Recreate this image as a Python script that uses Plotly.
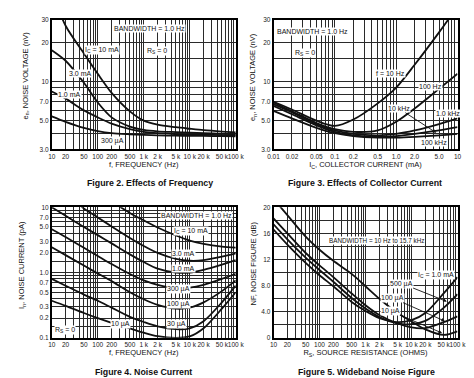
import plotly.graph_objects as go

W, H = 474, 378
FONT = "Liberation Sans Narrow, Arial Narrow, Liberation Sans, Arial, sans-serif"

# ---------------- Figure 2: noise voltage vs frequency ----------------
freq = [10, 20, 50, 100, 200, 500, 1e3, 2e3, 5e3, 1e4, 2e4, 5e4, 1e5]
en_f_10mA = [50, 27, 16.5, 11.5, 8.2, 5.9, 5.0, 4.65, 4.45, 4.33, 4.22, 4.12, 4.06]
en_f_3mA = [17.5, 14.5, 9.8, 6.9, 5.3, 4.5, 4.25, 4.14, 4.08, 4.04, 4.0, 3.96, 3.93]
en_f_1mA = [8.4, 7.4, 6.0, 5.3, 4.75, 4.3, 4.1, 4.0, 3.94, 3.91, 3.89, 3.87, 3.86]
en_f_300uA = [5.4, 4.9, 4.4, 4.15, 4.0, 3.92, 3.88, 3.85, 3.83, 3.82, 3.81, 3.8, 3.79]

# ---------------- Figure 3: noise voltage vs collector current ----------------
ic = [0.01, 0.02, 0.05, 0.1, 0.2, 0.5, 1, 2, 5, 10]
en_i_10Hz = [7.0, 6.1, 5.0, 4.55, 5.1, 6.8, 9.0, 13.5, 24, 38]
en_i_100Hz = [6.9, 5.9, 4.8, 4.3, 4.1, 4.2, 4.9, 6.2, 8.8, 11.5]
en_i_1kHz = [6.7, 5.8, 4.7, 4.2, 3.95, 3.85, 3.95, 4.2, 4.7, 5.2]
en_i_10kHz = [6.5, 5.6, 4.6, 4.1, 3.85, 3.75, 3.8, 3.95, 4.2, 4.45]
en_i_100kHz = [5.95, 5.2, 4.4, 4.0, 3.8, 3.7, 3.7, 3.75, 3.85, 3.95]

# ---------------- Figure 4: noise current vs frequency ----------------
in_10mA = [60, 40, 24, 17, 12.3, 8.2, 6.3, 4.9, 3.7, 3.1, 2.75, 2.5, 2.42]
in_3mA = [25, 17, 9.6, 7.0, 5.1, 3.4, 2.55, 2.0, 1.62, 1.52, 1.55, 1.75, 1.97]
in_1mA = [10, 7.4, 5.0, 3.75, 2.8, 1.9, 1.45, 1.15, 1.0, 1.0, 1.1, 1.32, 1.55]
in_300uA = [4.6, 3.5, 2.4, 1.8, 1.35, 0.95, 0.76, 0.65, 0.58, 0.59, 0.65, 0.8, 0.96]
in_100uA = [2.45, 1.85, 1.28, 0.97, 0.74, 0.5, 0.39, 0.32, 0.28, 0.29, 0.35, 0.52, 0.76]
in_30uA = [0.8, 0.63, 0.46, 0.37, 0.29, 0.21, 0.175, 0.15, 0.136, 0.14, 0.18, 0.35, 0.63]
in_10uA = [0.37, 0.31, 0.24, 0.2, 0.17, 0.14, 0.12, 0.106, 0.1, 0.105, 0.14, 0.28, 0.5]

# ---------------- Figure 5: wideband noise figure vs source resistance ----------------
rs = [10, 20, 50, 100, 200, 500, 1e3, 2e3, 5e3, 1e4, 2e4, 5e4, 1e5]
nf_1mA = [16.6, 14.3, 11.5, 9.6, 7.9, 5.5, 4.1, 3.0, 2.4, 2.7, 3.8, 6.8, 9.3]
nf_500uA = [17.4, 15.1, 12.3, 10.4, 8.6, 6.1, 4.5, 3.2, 2.2, 2.1, 2.6, 4.6, 6.7]
nf_100uA = [18.3, 16.0, 13.0, 11.1, 9.3, 6.8, 5.0, 3.5, 2.2, 1.6, 1.5, 2.4, 3.3]
nf_10uA = [21.3, 18.8, 15.5, 13.5, 11.8, 9.8, 7.9, 6.0, 3.8, 2.5, 1.3, 0.45, 1.0]

# tick labels
f_ticks = [10, 20, 50, 100, 200, 500, 1e3, 2e3, 5e3, 1e4, 2e4, 5e4, 1e5]
f_ticktext = ["10", "20", "50", "100", "200", "500", "1 k", "2 k", "5 k", "10 k", "20 k", "50 k", "100 k"]
ic_ticks = [0.01, 0.02, 0.05, 0.1, 0.2, 0.5, 1, 2, 5, 10]
ic_ticktext = ["0.01", "0.02", "0.05", "0.1", "0.2", "0.5", "1.0", "2.0", "5.0", "10"]
en_ticks = [3, 5, 7, 10, 20, 30]
en_ticktext = ["3.0", "5.0", "7.0", "10", "20", "30"]
in_ticks = [0.1, 0.2, 0.3, 0.5, 0.7, 1, 2, 3, 5, 7, 10]
in_ticktext = ["0.1", "0.2", "0.3", "0.5", "0.7", "1.0", "2.0", "3.0", "5.0", "7.0", "10"]
nf_ticks = [0, 4, 8, 12, 16, 20]
nf_ticktext = ["0", "4.0", "8.0", "12", "16", "20"]


def log_grid(lo_exp, hi_exp):
    vals = []
    for e in range(lo_exp, hi_exp + 1):
        for k in range(1, 10):
            vals.append(k * 10 ** e)
    return vals


fig = go.Figure()
line = dict(color="#111", width=1.8, shape="spline", smoothing=0.8)


def add(x, y, name, ax):
    fig.add_trace(go.Scatter(x=x, y=y, mode="lines", line=line, name=name,
                             xaxis="x" + ax, yaxis="y" + ax, showlegend=False,
                             hoverinfo="x+y+name"))


add(freq, en_f_10mA, "IC = 10 mA", "")
add(freq, en_f_3mA, "3.0 mA", "")
add(freq, en_f_1mA, "1.0 mA", "")
add(freq, en_f_300uA, "300 µA", "")

add(ic, en_i_10Hz, "f = 10 Hz", "2")
add(ic, en_i_100Hz, "100 Hz", "2")
add(ic, en_i_1kHz, "1.0 kHz", "2")
add(ic, en_i_10kHz, "10 kHz", "2")
add(ic, en_i_100kHz, "100 kHz", "2")

add(freq, in_10mA, "10 mA", "3")
add(freq, in_3mA, "3.0 mA", "3")
add(freq, in_1mA, "1.0 mA", "3")
add(freq, in_300uA, "300 µA", "3")
add(freq, in_100uA, "100 µA", "3")
add(freq, in_30uA, "30 µA", "3")
add(freq, in_10uA, "10 µA", "3")

add(rs, nf_1mA, "1.0 mA", "4")
add(rs, nf_500uA, "500 µA", "4")
add(rs, nf_100uA, "100 µA", "4")
add(rs, nf_10uA, "10 µA", "4")

GRID = "#2a2a2a"
TITLE_FONT = dict(size=7.5, family=FONT, color="#111")


def axis(domain, anchor, rng, tickvals, ticktext, minorvals, title=None,
         standoff=2, log=True):
    d = dict(domain=domain, anchor=anchor, range=rng,
             tickmode="array", tickvals=tickvals, ticktext=ticktext,
             tickangle=0,
             showline=True, linecolor="black", linewidth=1.6, mirror=True,
             showgrid=True, gridcolor=GRID, gridwidth=1, zeroline=False,
             ticks="", tickfont=dict(size=6.5, family=FONT, color="#222"),
             minor=dict(tickmode="array", tickvals=minorvals, showgrid=True,
                        gridcolor=GRID, gridwidth=1, ticks=""),
             fixedrange=True)
    if title:
        d["title"] = dict(text=title, font=TITLE_FONT, standoff=standoff)
    if log:
        d["type"] = "log"
    return d


def px(x):
    return x / W


def py(y):
    return 1 - y / H


xl = [px(39), px(229)]
xr = [px(268), px(458)]
yt = [py(140), py(8)]
yb = [py(332), py(199)]

EN_TITLE = "e<sub>n</sub>, NOISE VOLTAGE (nV)"
F_TITLE = "f, FREQUENCY (Hz)"

fig.update_layout(
    width=W, height=H, autosize=False,
    margin=dict(l=0, r=0, t=0, b=0),
    paper_bgcolor="white", plot_bgcolor="white",
    xaxis=axis(xl, "y", [1, 5], f_ticks, f_ticktext, log_grid(1, 4), F_TITLE),
    yaxis=axis(yt, "x", [0.4771, 1.4771], en_ticks, en_ticktext,
               [4, 5, 6, 7, 8, 9, 10, 15, 20]),
    xaxis2=axis(xr, "y2", [-2, 1], ic_ticks, ic_ticktext, log_grid(-2, 0),
                "I<sub>C</sub>, COLLECTOR CURRENT (mA)"),
    yaxis2=axis(yt, "x2", [0.4771, 1.4771], en_ticks, en_ticktext,
                [4, 5, 6, 7, 8, 9, 10, 15, 20]),
    xaxis3=axis(xl, "y3", [1, 5], f_ticks, f_ticktext, log_grid(1, 4), F_TITLE),
    yaxis3=axis(yb, "x3", [-1, 1], in_ticks, in_ticktext,
                log_grid(-1, 0) + [1.5, 0.15]),
    xaxis4=axis(xr, "y4", [1, 5], f_ticks, f_ticktext, log_grid(1, 4),
                "R<sub>S</sub>, SOURCE RESISTANCE (OHMS)"),
    yaxis4=axis(yb, "x4", [0, 20], nf_ticks, nf_ticktext, [2, 6, 10, 14, 18],
                log=False),
)

ann = []


def label(x, y, text, size=7, bg="white", bold=False, head=None, angle=0):
    t = "<b>%s</b>" % text if bold else text
    d = dict(xref="paper", yref="paper", text=t, textangle=angle,
             font=dict(size=size, family=FONT, color="#111"),
             borderpad=0, xanchor="center", yanchor="middle")
    if bg:
        d["bgcolor"] = bg
    if head is None:
        d.update(x=px(x), y=py(y), showarrow=False)
    else:
        # arrow from the label (at x, y) to the curve point head, page pixels
        hx, hy = head
        d.update(x=px(hx), y=py(hy), ax=x - hx, ay=y - hy,
                 axref="pixel", ayref="pixel", showarrow=True,
                 arrowhead=2, arrowsize=0.8, arrowwidth=0.9,
                 arrowcolor="#111", standoff=0, startstandoff=0)
    ann.append(d)


# Figure 2 texts
label(140, 17, "BANDWIDTH = 1.0 Hz")
label(91, 39, "I<sub>C</sub> = 10 mA")
label(148, 40, "R<sub>S</sub> = 0")
label(69, 63, "3.0 mA")
label(57, 84, "1.0 mA")
label(102, 131, "300 µA")
label(12, 65, EN_TITLE, size=7.5, bg=None, angle=-90)
label(140, 174, "Figure 2. Effects of Frequency", size=8.8, bg=None, bold=True)

# Figure 3 texts
label(308, 20, "BANDWIDTH = 1.0 Hz")
label(300, 42, "R<sub>S</sub> = 0")
label(389, 63, "f = 10 Hz")
label(430, 76, "100 Hz")
label(399, 99, "10 kHz", head=(436, 123))
label(448, 103, "1.0 kHz")
label(434, 133, "100 kHz")
label(247, 66, EN_TITLE, size=7.5, bg=None, angle=-90)
label(362, 174, "Figure 3. Effects of Collector Current", size=8.8, bg=None, bold=True)

# Figure 4 texts
label(188, 207, "BANDWIDTH = 1.0 Hz")
label(183, 223, "I<sub>C</sub> = 10 mA")
label(175, 246, "3.0 mA")
label(175, 261, "1.0 mA")
label(170, 282, "300 µA")
label(170, 298, "100 µA")
label(168, 318, "30 µA")
label(110, 318, "10 µA")
label(53, 324, "R<sub>S</sub> = 0")
label(9, 258, "I<sub>n</sub>, NOISE CURRENT (pA)", size=7.5, bg=None, angle=-90)
label(134, 367, "Figure 4. Noise Current", size=8.8, bg=None, bold=True)

# Figure 5 texts
label(374, 233, "BANDWIDTH = 10 Hz to 15.7 kHz", size=6.3)
label(436, 268, "I<sub>C</sub> = 1.0 mA")
label(402, 277, "500 µA", head=(447, 295))
label(393, 292, "100 µA", head=(445, 315))
label(390, 305, "10 µA", head=(442, 327))
label(247, 256, "NF, NOISE FIGURE (dB)", size=7.5, bg=None, angle=-90)
label(364, 367, "Figure 5. Wideband Noise Figure", size=8.8, bg=None, bold=True)

fig.update_layout(annotations=ann)
fig.write_html("out.html")
